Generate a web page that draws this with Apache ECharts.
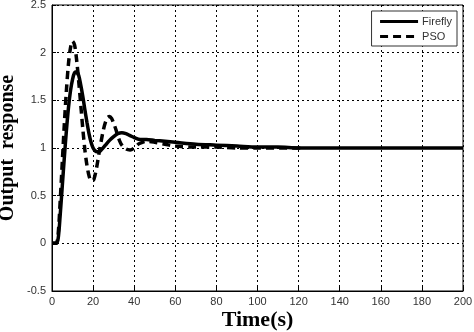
<!DOCTYPE html>
<html>
<head>
<meta charset="utf-8">
<script src="https://cdn.jsdelivr.net/npm/echarts@6/dist/echarts.min.js"></script>
<style>
  html, body { margin: 0; padding: 0; background: #fff; }
  #main { width: 474px; height: 332px; }
</style>
</head>
<body>
<div id="main"></div>
<script>
// 曲线数据 (时间, 输出)
var fireflyT = [0, 2, 3, 4, 5, 6, 7, 8, 9, 10, 11, 12, 13, 14, 15, 16, 17, 18, 19, 20, 21, 22, 23, 24, 26, 28, 30, 32, 34, 36, 38, 40, 43, 46, 50, 55, 60, 70, 80, 90, 100, 110, 120, 140, 160, 180, 200];
var fireflyY = [0, 0, 0.05, 0.3, 0.6, 0.9, 1.18, 1.42, 1.6, 1.72, 1.79, 1.8, 1.76, 1.66, 1.54, 1.4, 1.27, 1.15, 1.06, 1.0, 0.97, 0.96, 0.96, 0.98, 1.03, 1.08, 1.12, 1.15, 1.16, 1.15, 1.13, 1.11, 1.09, 1.09, 1.08, 1.07, 1.06, 1.04, 1.03, 1.02, 1.01, 1.01, 1.0, 1.0, 1.0, 1.0, 1.0];

var psoT = [0, 2, 3, 4, 5, 6, 7, 8, 9, 10, 11, 12, 13, 14, 15, 16, 17, 18, 19, 20, 21, 22, 23, 24, 25, 26, 27, 28, 29, 30, 31, 32, 33, 34, 36, 38, 40, 42, 44, 46, 50, 55, 60, 70, 80, 90, 100, 123];
var psoY = [0, 0, 0.1, 0.45, 0.85, 1.25, 1.6, 1.88, 2.05, 2.12, 2.08, 1.92, 1.7, 1.45, 1.2, 0.98, 0.82, 0.71, 0.66, 0.66, 0.72, 0.83, 0.96, 1.08, 1.19, 1.27, 1.32, 1.33, 1.31, 1.26, 1.2, 1.13, 1.07, 1.03, 0.99, 0.98, 1.0, 1.04, 1.06, 1.07, 1.06, 1.04, 1.02, 1.01, 1.01, 1.0, 1.0, 1.0];

var xTicks = [0, 20, 40, 60, 80, 100, 120, 140, 160, 180, 200];
var yTicks = [-0.5, 0, 0.5, 1, 1.5, 2, 2.5];

function pairs(t, y) {
    return t.map(function (v, i) { return [v, y[i]]; });
}

var myChart = echarts.init(document.getElementById('main'));

var serif = '"Liberation Serif", "DejaVu Serif", serif';
var sans = '"Liberation Sans", Arial, sans-serif';

option = {
    backgroundColor: '#fff',
    animation: false,
    grid: {
        left: 52,
        right: 11,
        top: 5,
        bottom: 41,
        outerBoundsMode: 'none',
        containLabel: false,
        show: true,
        borderColor: '#000',
        borderWidth: 1
    },
    legend: {
        orient: 'vertical',
        right: 17,
        top: 11,
        padding: [5, 5, 4, 7],
        itemGap: 4,
        itemWidth: 38,
        itemHeight: 8,
        backgroundColor: '#fff',
        borderColor: '#333',
        borderWidth: 1,
        borderRadius: 0,
        itemStyle: { opacity: 0 },
        lineStyle: { width: 3 },
        textStyle: { color: '#333', fontSize: 11, fontFamily: sans, padding: [0, 0, 0, -1] },
        data: ['Firefly', 'PSO']
    },
    xAxis: {
        type: 'value',
        min: 0,
        max: 200,
        interval: 20,
        name: 'Time(s)',
        nameLocation: 'middle',
        nameGap: 18,
        nameMoveOverlap: false,
        nameTextStyle: { color: '#000', fontSize: 22, fontWeight: 'bold', fontFamily: serif },
        axisLine: { onZero: false, lineStyle: { color: '#000', width: 1 } },
        axisTick: { inside: true, length: 4, lineStyle: { color: '#000' } },
        axisLabel: { color: '#333', fontSize: 11, fontFamily: sans, margin: 5 },
        splitLine: { show: true, lineStyle: { color: '#000', type: [2, 3], width: 1 } }
    },
    yAxis: {
        type: 'value',
        min: -0.5,
        max: 2.5,
        interval: 0.5,
        name: 'Output  response',
        nameLocation: 'middle',
        nameRotate: 90,
        nameGap: 34,
        nameMoveOverlap: false,
        nameTextStyle: { color: '#000', fontSize: 20, fontWeight: 'bold', fontFamily: serif },
        axisLine: { show: true, onZero: false, lineStyle: { color: '#000', width: 1 } },
        axisTick: { show: true, inside: true, length: 4, lineStyle: { color: '#000' } },
        axisLabel: { color: '#333', fontSize: 11, fontFamily: sans, margin: 6 },
        splitLine: { show: true, lineStyle: { color: '#000', type: [2, 3], width: 1 } }
    },
    series: [
        {
            name: 'Firefly',
            type: 'line',
            symbol: 'none',
            smooth: 0.3,
            data: pairs(fireflyT, fireflyY),
            lineStyle: { color: '#000', width: 3.5 },
            itemStyle: { color: '#000' },
            z: 3
        },
        {
            name: 'PSO',
            type: 'line',
            symbol: 'none',
            smooth: 0.3,
            data: pairs(psoT, psoY),
            lineStyle: { color: '#000', width: 3.5, type: [8, 5] },
            itemStyle: { color: '#000' },
            z: 4
        }
    ]
};

myChart.setOption(option);
</script>
</body>
</html>
